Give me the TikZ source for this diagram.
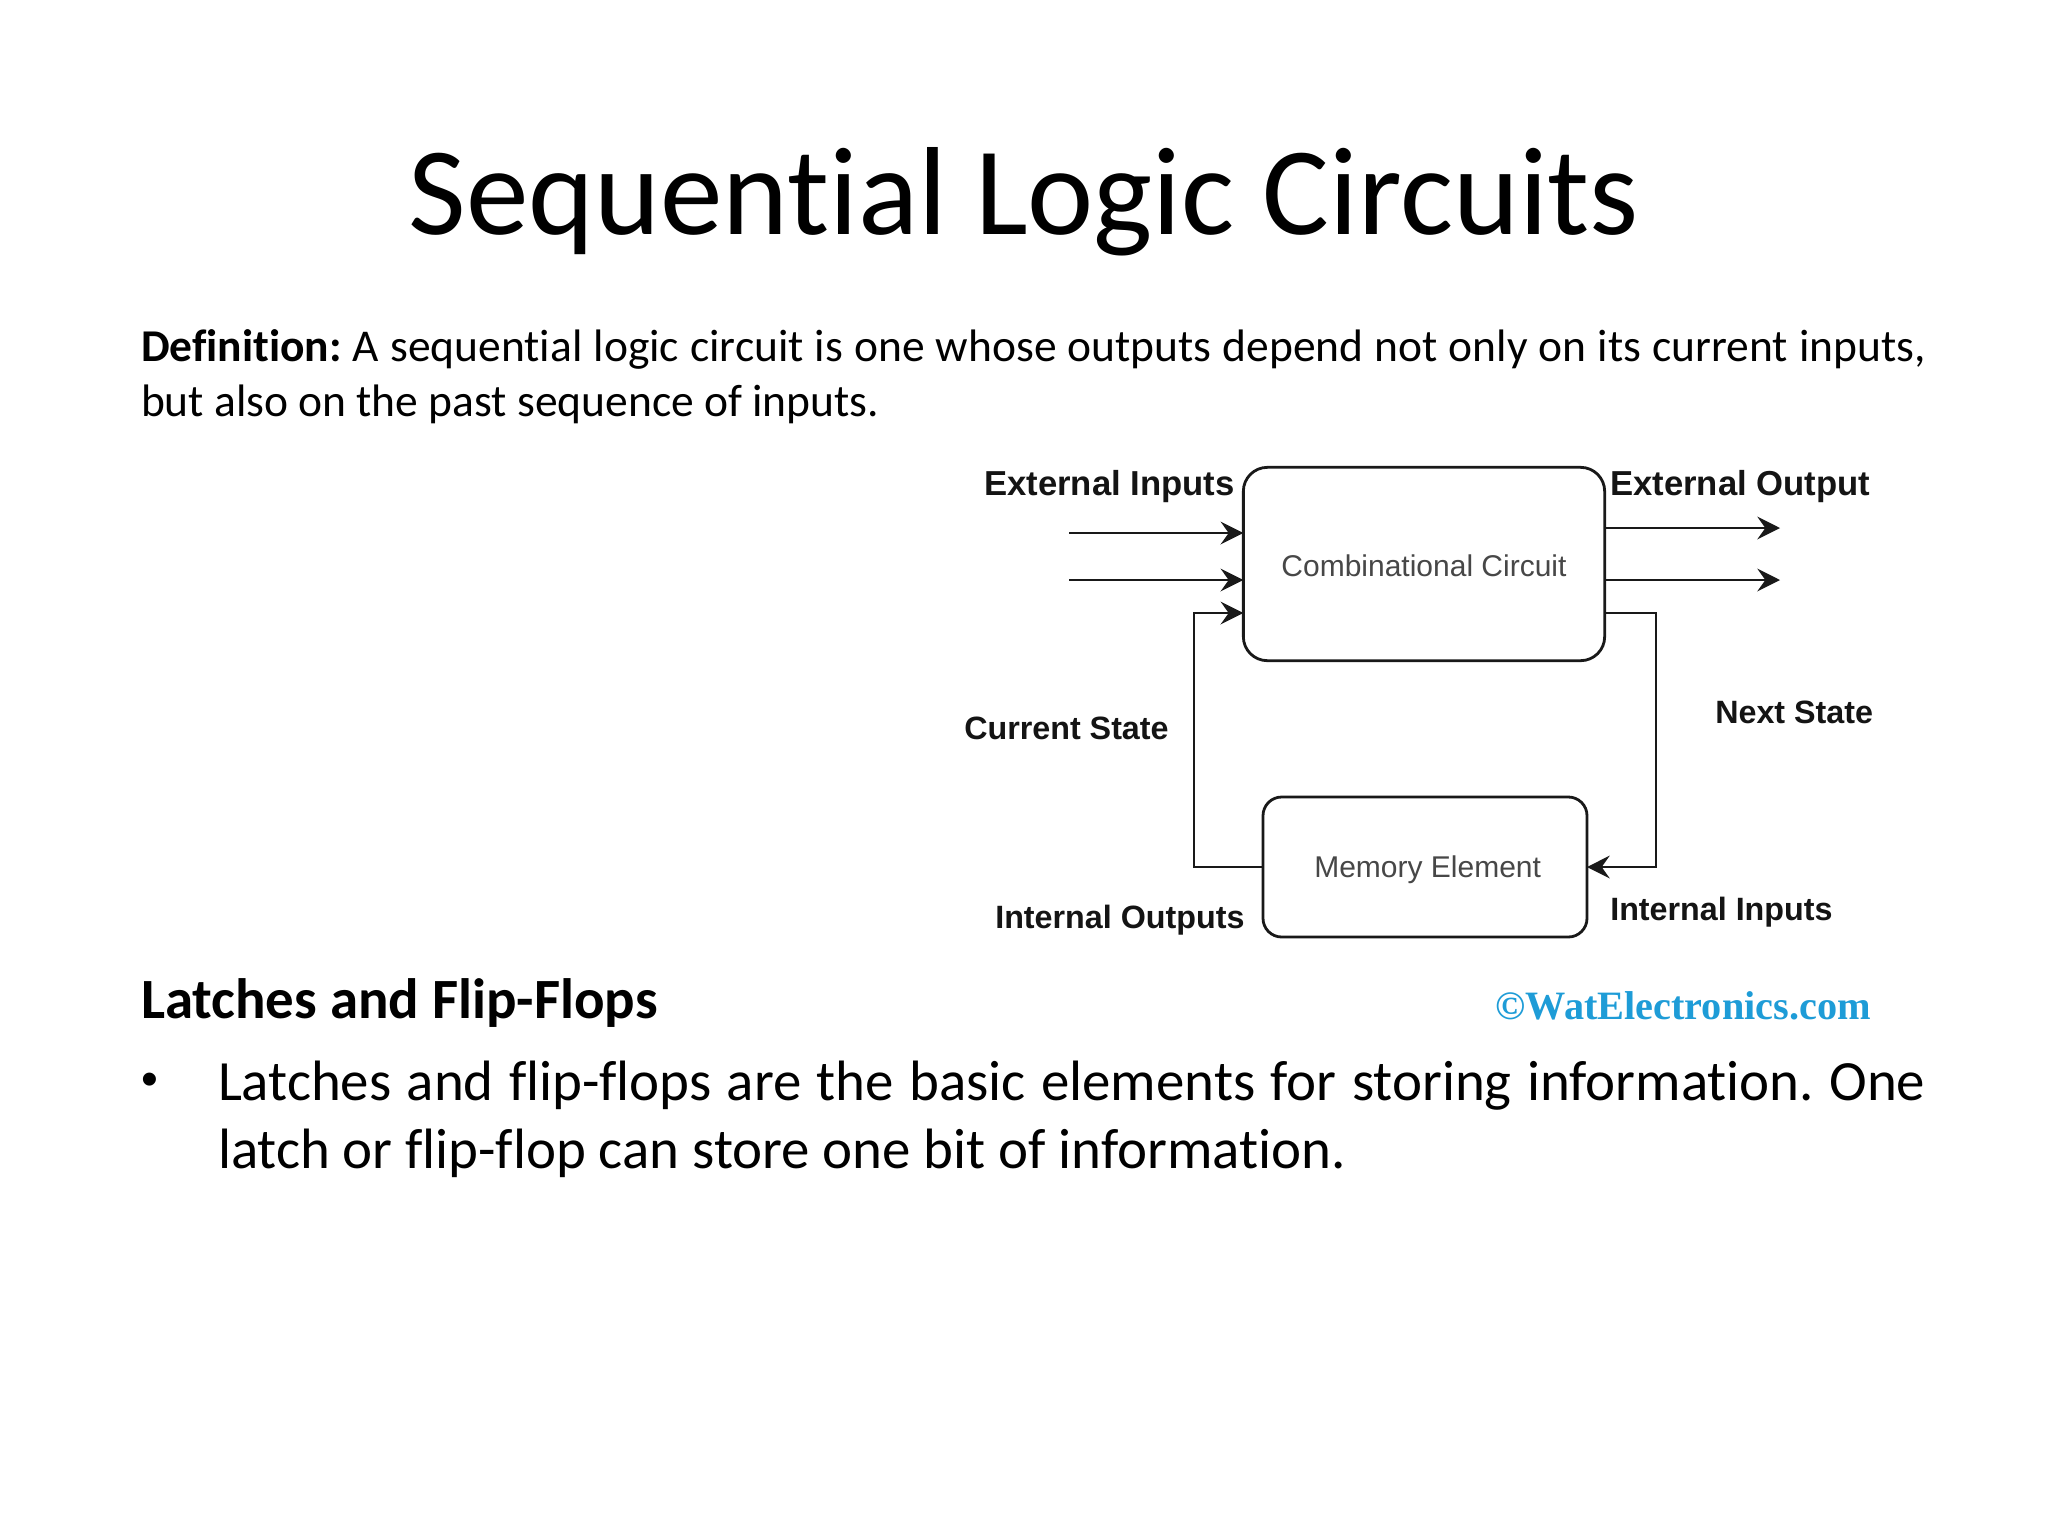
\documentclass[tikz,border=0pt]{standalone}
\usepackage{fontspec}
\setmainfont{Carlito}[RawFeature={-liga}]
\newfontfamily\diagfont{Liberation Sans}
\newfontfamily\markfont{Liberation Serif}
\usetikzlibrary{arrows.meta}
\newcommand{\fsz}[1]{\fontsize{#1}{#1}\selectfont}
\frenchspacing
\tikzset{
  x=0.75pt,y=-0.75pt,
  slidetext/.style={anchor=base west,inner sep=0pt,outer sep=0pt,text=black},
  blockbox/.style={draw=black!90,line width=2.1pt,rounded corners=18pt,inner sep=0pt,outer sep=0pt,
    font=\diagfont\fsz{22.5},text=black!72},
  biglabel/.style={anchor=west,inner sep=0pt,font=\diagfont\bfseries\fsz{24.2},text=black!92},
  wire/.style={line width=2.1pt,draw=black!90},
  arr/.style={wire,-{Stealth[length=17pt,width=17pt,inset=6pt]}},
}
\begin{document}
\begin{tikzpicture}
\useasboundingbox (0,0) rectangle (2048,1536);
\fill[white] (0,0) rectangle (2048,1536);
% slide text
\node[anchor=base,inner sep=0pt,font=\fsz{94}] (title) at (1024,234) {Sequential Logic Circuits};
\node[slidetext,font=\fsz{34.13}] (def1) at (141,361) {\spaceskip=8.3pt\textbf{Definition:} A sequential logic circuit is one whose outputs depend not only on its current inputs,};
\node[slidetext,font=\fsz{34.13}] (def2) at (141,416) {but also on the past sequence of inputs.};
\node[slidetext,font=\bfseries\fsz{42.67}] (head) at (141,1018) {Latches and Flip-Flops};
\node[slidetext,font=\diagfont\fsz{36}] (bul) at (141,1095) {•};
\node[slidetext,font=\fsz{42.67}] (b1) at (218,1100) {\spaceskip=11.5pt Latches and flip-flops are the basic elements for storing information. One};
\node[slidetext,font=\fsz{42.67}] (b2) at (218,1168) {latch or flip-flop can store one bit of information.};
% blocks
\node[blockbox,minimum width=271pt,minimum height=145pt,text height=18pt,text depth=0pt] (comb) at (1424,564) {Combinational Circuit};
\node[blockbox,minimum width=243pt,minimum height=105pt,rounded corners=14pt,text height=18pt,text depth=2.4pt] (mem) at (1425,867) {\hspace{4pt}Memory Element};
% free ends
\coordinate (i1) at (1069,533);
\coordinate (i2) at (1069,580);
\coordinate (o1) at (1780,528);
\coordinate (o2) at (1780,580);
\coordinate (fbl) at (1194,613);
\coordinate (fbr) at (1656,613);
% connectors
\draw[arr] (i1) -- (i1 -| comb.west);
\draw[arr] (i2) -- (i2 -| comb.west);
\draw[arr] (o1 -| comb.east) -- (o1);
\draw[arr] (o2 -| comb.east) -- (o2);
\draw[arr] (mem.west) -| (fbl) -- (fbl -| comb.west);
\draw[arr] (fbr -| comb.east) -| (fbr) |- (mem.east);
% labels
\begin{scope}
\clip (900,440) rectangle (1871,1040);
\node[biglabel,font=\diagfont\bfseries\fsz{26}] (l1) at (984,487) {External Inputs};
\node[biglabel,font=\diagfont\bfseries\fsz{26}] (l2) at (1610,487) {External Output};
\node[biglabel] (l3) at (964,728) {Current State};
\node[biglabel] (l4) at (1715,712) {Next State};
\node[biglabel] (l5) at (995,920) {Internal Outputs};
\node[biglabel] (l6) at (1610,912) {Internal Inputs};
\node[anchor=base east,inner sep=0pt,font=\markfont\bfseries\fsz{30.2},text={rgb,255:red,30;green,156;blue,215}] (wm) at (1871,1019) {©WatElectronics.com};
\end{scope}
\end{tikzpicture}
\end{document}
